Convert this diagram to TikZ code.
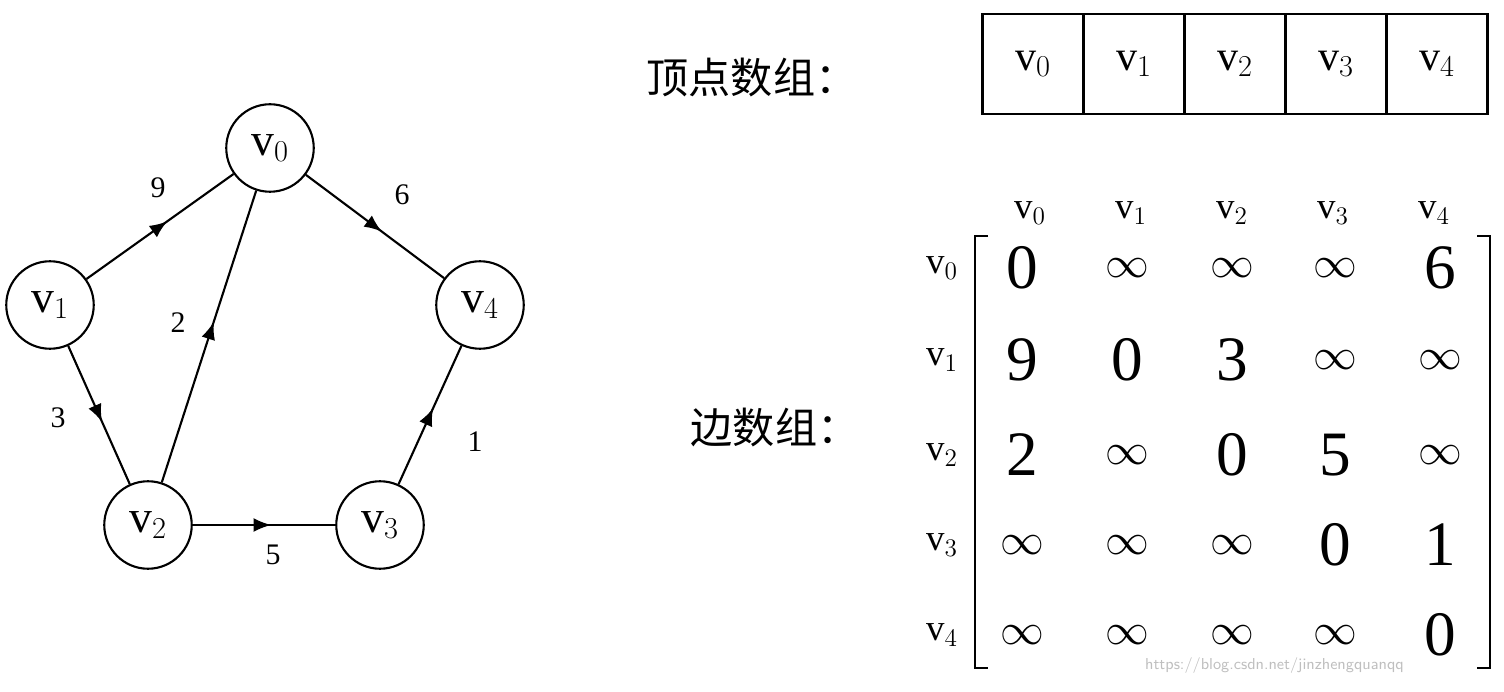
\documentclass[tikz,border=0pt]{standalone}
\usepackage{fontspec}
\setmainfont{Liberation Serif}
\newfontfamily\cjk{Noto Sans CJK SC}
\usetikzlibrary{decorations.markings,arrows.meta}
\begin{document}
\begin{tikzpicture}[x=0.02cm,y=-0.02cm,
 vert/.style={circle,draw,line width=1.2pt,minimum size=1.75cm,inner sep=0pt,font=\fontsize{26}{28}\selectfont},
 edge/.style={line width=1.2pt,postaction={decorate},decoration={markings,mark=at position 0.55 with {\arrow{Latex[length=10pt,width=8pt]}}}},
 wl/.style={font=\fontsize{17}{19}\selectfont},
 cell/.style={draw,line width=1.2pt,minimum width=2.02cm,minimum height=2cm,font=\fontsize{24}{26}\selectfont,inner sep=0pt},
 ent/.style={font=\fontsize{36}{38}\selectfont},
 inf/.style={font=\fontsize{30}{32}\selectfont},
 hd/.style={font=\fontsize{21}{23}\selectfont}]
\useasboundingbox (0,0) rectangle (1504,692);
\node[vert] (v0) at (270,148) {v$_0$};
\node[vert] (v1) at (50,305) {v$_1$};
\node[vert] (v4) at (480,305) {v$_4$};
\node[vert] (v2) at (148,525) {v$_2$};
\node[vert] (v3) at (380,525) {v$_3$};
\draw[edge] (v1) -- (v0);
\draw[edge] (v0) -- (v4);
\draw[edge] (v2) -- (v0);
\draw[edge] (v1) -- (v2);
\draw[edge] (v2) -- (v3);
\draw[edge] (v3) -- (v4);
\node[wl] (l9) at (158,188) {9};
\node[wl] (l6) at (402,195) {6};
\node[wl] (l2) at (178,323) {2};
\node[wl] (l3) at (58,418) {3};
\node[wl] (l5) at (273,555) {5};
\node[wl] (l1) at (475,442) {1};
\node[font=\cjk\fontsize{24}{26}\selectfont] (t1) at (752,78) {顶点数组：};
\node[font=\cjk\fontsize{24}{26}\selectfont] (t2) at (775,428) {边数组：};
\foreach \i/\x in {0/1033,1/1134,2/1235,3/1336,4/1437}{
  \node[cell] (c\i) at (\x,64) {v$_\i$};
  \node[hd] (h\i) at (\x-3,213) {v$_\i$};
}
\foreach \i/\y in {0/268,1/360,2/455,3/545,4/635}{
  \node[hd] (r\i) at (942,\y) {v$_\i$};
}
\foreach \r/\y/\a/\b/\c/\d/\e in {0/268/0/I/I/I/6,1/360/9/0/3/I/I,2/455/2/I/0/5/I,3/545/I/I/I/0/1,4/635/I/I/I/I/0}{
  \foreach \v/\x/\k in {\a/1022/a,\b/1127/b,\c/1232/c,\d/1335/d,\e/1440/e}{
    \if I\v \node[inf] (m\r\k) at (\x,\y) {$\infty$};
    \else \node[ent] (m\r\k) at (\x,\y) {\v};\fi
  }
}
\draw[line width=1.4pt] (988,236) -- (975,236) -- (975,668) -- (988,668);
\draw[line width=1.4pt] (1477,236) -- (1490,236) -- (1490,668) -- (1477,668);
\node[text=gray!50,font=\fontsize{9}{10}\selectfont\sffamily,anchor=east] (wm) at (1410,666) {https://blog.csdn.net/jinzhengquanqq};
\end{tikzpicture}
\end{document}
